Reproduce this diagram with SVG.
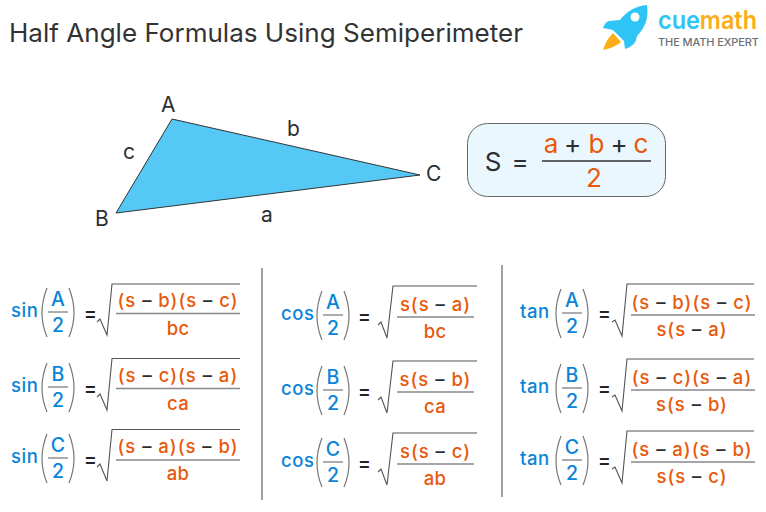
<svg xmlns="http://www.w3.org/2000/svg" xmlns:xlink="http://www.w3.org/1999/xlink" width="766" height="512" viewBox="0 0 766 512">
<style>
text{font-family:"Inter","Liberation Sans",sans-serif}
.t{font-size:25.5px;fill:#333;font-weight:400}
.lbl{font-size:21px;fill:#2b2f33}
.fn{font-size:18.5px;fill:#0a84d8;letter-spacing:.6px;font-weight:450}
.ang{font-size:19.5px;fill:#0a84d8;text-anchor:middle;font-weight:450}
.eq{font-size:19px;fill:#222;text-anchor:middle;font-weight:600}
.n{font-size:18.5px;fill:#e8590c;text-anchor:middle;letter-spacing:.3px;font-weight:450}
.w{letter-spacing:1px}
.n tspan{fill:#2b2f33}
.m{fill:#2b2f33;font-size:26px;text-anchor:middle}
.o{fill:#e8590c;font-size:26px;text-anchor:middle}
.fl{stroke:#888;stroke-width:1.4;fill:none}
.pr{stroke:#777;stroke-width:1.2;fill:none}
.rd{stroke:#555;stroke-width:1.1;fill:none}
.dv{stroke:#555;stroke-width:1.1}
</style>
<defs>
<g id="ang"><path class="pr" d="M36,-29Q26,-4 36,20M58,-29Q68,-4 58,20"/><path class="fl" d="M37,-5H57"/></g>
</defs>
<rect width="766" height="512" fill="#fff"/>
<text id="title" class="t" x="9" y="42" textLength="514" lengthAdjust="spacingAndGlyphs">Half Angle Formulas Using Semiperimeter</text>
<g id="logo">
<path d="M647,5C636,6 627,11 620,20L609,21Q605,22 603,28L613,30L624,41L625,49Q636,46 637,36C645,28 649,18 647,5Z" fill="#2ec5f6"/>
<circle cx="635" cy="17" r="4.500" fill="#fff"/>
<path d="M613,33L621,42Q616,47 603,50Q606,40 613,33Z" fill="#fbae17"/>
<text x="658" y="29" font-size="25" font-weight="600" textLength="99" lengthAdjust="spacingAndGlyphs"><tspan fill="#2ec5f6">cue</tspan><tspan fill="#fbae17">math</tspan></text>
<text x="658" y="46" font-size="11" font-weight="500" fill="#6c6f72" textLength="101">THE MATH EXPERT</text>
</g>
<g id="triangle">
<path d="M172,119L420,175L116,213Z" fill="#55c8f6" stroke="#333" stroke-width="1"/>
<text class="lbl" x="161" y="112">A</text><text class="lbl" x="287" y="136">b</text>
<text class="lbl" x="123" y="159">c</text><text class="lbl" x="426" y="181">C</text>
<text class="lbl" x="95" y="226">B</text><text class="lbl" x="261" y="222">a</text>
</g>
<g id="semiperimeter">
<rect x="467.500" y="123.500" width="198" height="73" rx="20" fill="#ebf7fe" stroke="#666" stroke-width="1"/>
<text class="m" x="493" y="171">S</text>
<text class="m" x="520" y="171">=</text>
<text class="o" x="551" y="153">a</text><text class="m" x="572.500" y="153">+</text><text class="o" x="596.500" y="153">b</text><text class="m" x="619" y="153">+</text><text class="o" x="641" y="153">c</text>
<path d="M542,161H651" stroke="#333" stroke-width="1.300"/>
<text class="o" x="594" y="187">2</text>
</g>
<g id="dividers"><path class="dv" d="M262,268V500M502,265V497"/></g>
<g id="sinA"><text class="fn" x="11" y="317">sin</text><use xlink:href="#ang" href="#ang" x="11" y="317"/><text class="ang" x="58" y="306">A</text><text class="ang" x="58" y="332">2</text><text class="eq" x="90.500" y="319.500">=</text><path class="rd" d="M97,322L100,319L107,335L112,284H240"/><path class="fl" d="M116,313.500H240"/><text class="n w" x="178" y="307">(s <tspan>–</tspan> b)(s <tspan>–</tspan> c)</text><text class="n" x="178" y="335">bc</text></g>
<g id="sinB"><text class="fn" x="11" y="392">sin</text><use xlink:href="#ang" href="#ang" x="11" y="392"/><text class="ang" x="58" y="381">B</text><text class="ang" x="58" y="407">2</text><text class="eq" x="90.500" y="394.500">=</text><path class="rd" d="M97,397L100,394L107,410L112,358.500H240"/><path class="fl" d="M116,388.500H240"/><text class="n w" x="178" y="382">(s <tspan>–</tspan> c)(s <tspan>–</tspan> a)</text><text class="n" x="178" y="410">ca</text></g>
<g id="sinC"><text class="fn" x="11" y="463">sin</text><use xlink:href="#ang" href="#ang" x="11" y="463"/><text class="ang" x="58" y="452">C</text><text class="ang" x="58" y="478">2</text><text class="eq" x="90.500" y="465.500">=</text><path class="rd" d="M97,467L100,464L107,481L112,429.500H240"/><path class="fl" d="M116,460H240"/><text class="n w" x="178" y="453">(s <tspan>–</tspan> a)(s <tspan>–</tspan> b)</text><text class="n" x="178" y="480">ab</text></g>
<g id="cosA"><text class="fn" x="281" y="320">cos</text><use xlink:href="#ang" href="#ang" x="286" y="320"/><text class="ang" x="333" y="309">A</text><text class="ang" x="333" y="335">2</text><text class="eq" x="364.500" y="322.500">=</text><path class="rd" d="M378,325L381,322L387,338L393,286H477"/><path class="fl" d="M397,317H474"/><text class="n w" x="435.500" y="311">s(s <tspan>–</tspan> a)</text><text class="n" x="435" y="338">bc</text></g>
<g id="cosB"><text class="fn" x="281" y="395">cos</text><use xlink:href="#ang" href="#ang" x="286" y="395"/><text class="ang" x="333" y="384">B</text><text class="ang" x="333" y="410">2</text><text class="eq" x="364.500" y="397.500">=</text><path class="rd" d="M378,400L381,397L387,413L393,361H477"/><path class="fl" d="M397,392H474"/><text class="n w" x="435.500" y="386">s(s <tspan>–</tspan> b)</text><text class="n" x="435" y="413">ca</text></g>
<g id="cosC"><text class="fn" x="281" y="467">cos</text><use xlink:href="#ang" href="#ang" x="286" y="467"/><text class="ang" x="333" y="456">C</text><text class="ang" x="333" y="482">2</text><text class="eq" x="364.500" y="469.500">=</text><path class="rd" d="M378,472L381,469L387,485L393,433H477"/><path class="fl" d="M397,464H474"/><text class="n w" x="435.500" y="458">s(s <tspan>–</tspan> c)</text><text class="n" x="435" y="485">ab</text></g>
<g id="tanA"><text class="fn" x="520" y="318">tan</text><use xlink:href="#ang" href="#ang" x="525" y="318"/><text class="ang" x="572" y="307">A</text><text class="ang" x="572" y="333">2</text><text class="eq" x="604.500" y="320">=</text><path class="rd" d="M612,322L615,320L622,336L627,284H754"/><path class="fl" d="M631,315H755"/><text class="n w" x="692" y="309">(s <tspan>–</tspan> b)(s <tspan>–</tspan> c)</text><text class="n w" x="692" y="336">s(s <tspan>–</tspan> a)</text></g>
<g id="tanB"><text class="fn" x="520" y="393">tan</text><use xlink:href="#ang" href="#ang" x="525" y="393"/><text class="ang" x="572" y="382">B</text><text class="ang" x="572" y="408">2</text><text class="eq" x="604.500" y="395">=</text><path class="rd" d="M612,397L615,395L622,411L627,359H754"/><path class="fl" d="M631,390H755"/><text class="n w" x="692" y="384">(s <tspan>–</tspan> c)(s <tspan>–</tspan> a)</text><text class="n w" x="692" y="411">s(s <tspan>–</tspan> b)</text></g>
<g id="tanC"><text class="fn" x="520" y="465">tan</text><use xlink:href="#ang" href="#ang" x="525" y="465"/><text class="ang" x="572" y="454">C</text><text class="ang" x="572" y="480">2</text><text class="eq" x="604.500" y="467">=</text><path class="rd" d="M612,469L615,467L622,483L627,431H754"/><path class="fl" d="M631,462H755"/><text class="n w" x="692" y="456">(s <tspan>–</tspan> a)(s <tspan>–</tspan> b)</text><text class="n w" x="692" y="483">s(s <tspan>–</tspan> c)</text></g>
</svg>
